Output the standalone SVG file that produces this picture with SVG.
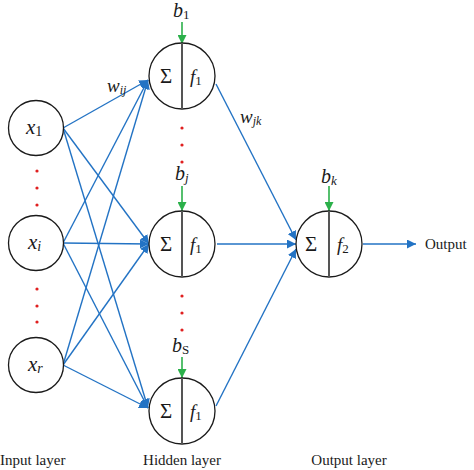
<svg xmlns="http://www.w3.org/2000/svg" width="474" height="470" viewBox="0 0 474 470">
<defs>
<marker id="ab" viewBox="0 0 10 10" refX="10" refY="5" markerWidth="9" markerHeight="9" markerUnits="userSpaceOnUse" orient="auto"><path d="M0,0 L10,5 L0,10 z" fill="#2373c4"/></marker>
<marker id="ag" viewBox="0 0 10 10" refX="10" refY="5" markerWidth="9" markerHeight="9" markerUnits="userSpaceOnUse" orient="auto"><path d="M0,0 L10,5 L0,10 z" fill="#2bb04a"/></marker>
</defs>
<style>
.n{fill:#fff;stroke:#1a1a1a;stroke-width:1.3}
.d{stroke:#555;stroke-width:2}
.c{stroke:#2373c4;stroke-width:1.4;fill:none}
.g{stroke:#2bb04a;stroke-width:1.6}
.t{font-family:"Liberation Serif",serif;fill:#1a1a1a}
.i{font-style:italic}
.r{fill:#e02020}
</style>
<rect width="474" height="470" fill="#fff"/>
<g id="connectors">
<line class="c" x1="63" y1="128" x2="148" y2="80" marker-end="url(#ab)"/>
<line class="c" x1="63" y1="243" x2="148" y2="80" marker-end="url(#ab)"/>
<line class="c" x1="63" y1="365" x2="148" y2="80" marker-end="url(#ab)"/>
<line class="c" x1="63" y1="128" x2="149" y2="244" marker-end="url(#ab)"/>
<line class="c" x1="63" y1="243" x2="149" y2="244" marker-end="url(#ab)"/>
<line class="c" x1="63" y1="365" x2="149" y2="244" marker-end="url(#ab)"/>
<line class="c" x1="63" y1="128" x2="148" y2="408" marker-end="url(#ab)"/>
<line class="c" x1="63" y1="243" x2="148" y2="408" marker-end="url(#ab)"/>
<line class="c" x1="63" y1="365" x2="148" y2="408" marker-end="url(#ab)"/>
<line class="c" x1="216" y1="84" x2="296" y2="240" marker-end="url(#ab)"/>
<line class="c" x1="217" y1="244" x2="296" y2="244" marker-end="url(#ab)"/>
<line class="c" x1="216" y1="406" x2="296" y2="249" marker-end="url(#ab)"/>
<line class="c" x1="363" y1="244" x2="416" y2="244" marker-end="url(#ab)"/>
<line class="g" x1="182" y1="22" x2="182" y2="44" marker-end="url(#ag)"/>
<line class="g" x1="182" y1="186" x2="182" y2="211" marker-end="url(#ag)"/>
<line class="g" x1="182" y1="357" x2="182" y2="378" marker-end="url(#ag)"/>
<line class="g" x1="329" y1="186" x2="329" y2="211" marker-end="url(#ag)"/>
</g>
<g id="x1"><circle class="n" cx="36" cy="128" r="27.5"/><text class="t" x="26" y="134" font-size="21"><tspan class="i">x</tspan><tspan font-size="14" dy="2">1</tspan></text></g>
<g id="xi"><circle class="n" cx="36" cy="243" r="27.5"/><text class="t" x="28" y="249" font-size="21"><tspan class="i">x</tspan><tspan class="i" font-size="14" dy="2">i</tspan></text></g>
<g id="xr"><circle class="n" cx="36" cy="365" r="27.5"/><text class="t" x="28" y="371" font-size="21"><tspan class="i">x</tspan><tspan class="i" font-size="14" dy="2">r</tspan></text></g>
<g id="h1"><circle class="n" cx="182" cy="76" r="33"/><line class="d" x1="182" y1="43" x2="182" y2="109"/><text class="t" x="160" y="83" font-size="21">Σ</text><text class="t" x="190" y="83" font-size="19"><tspan class="i">f</tspan><tspan font-size="13" dy="2">1</tspan></text></g>
<g id="hj"><circle class="n" cx="182" cy="244" r="33"/><line class="d" x1="182" y1="211" x2="182" y2="277"/><text class="t" x="160" y="251" font-size="21">Σ</text><text class="t" x="190" y="251" font-size="19"><tspan class="i">f</tspan><tspan font-size="13" dy="2">1</tspan></text></g>
<g id="hs"><circle class="n" cx="182" cy="411" r="33"/><line class="d" x1="182" y1="378" x2="182" y2="444"/><text class="t" x="160" y="418" font-size="21">Σ</text><text class="t" x="190" y="418" font-size="19"><tspan class="i">f</tspan><tspan font-size="13" dy="2">1</tspan></text></g>
<g id="out"><circle class="n" cx="329" cy="244" r="33"/><line class="d" x1="329" y1="211" x2="329" y2="277"/><text class="t" x="305" y="251" font-size="21">Σ</text><text class="t" x="337" y="251" font-size="19"><tspan class="i">f</tspan><tspan font-size="13" dy="2">2</tspan></text></g>
<g id="labels">
<text class="t" x="173" y="17" font-size="20"><tspan class="i">b</tspan><tspan font-size="13" dy="2">1</tspan></text>
<text class="t" x="175" y="180" font-size="20"><tspan class="i">b</tspan><tspan class="i" font-size="13" dy="2">j</tspan></text>
<text class="t" x="172" y="352" font-size="20"><tspan class="i">b</tspan><tspan font-size="13" dy="2">S</tspan></text>
<text class="t" x="321" y="183" font-size="20"><tspan class="i">b</tspan><tspan class="i" font-size="13" dy="2">k</tspan></text>
<text class="t" x="107" y="92" font-size="19"><tspan class="i">w</tspan><tspan class="i" font-size="12" dy="2">ij</tspan></text>
<text class="t" x="240" y="123" font-size="19"><tspan class="i">w</tspan><tspan class="i" font-size="12" dy="2">jk</tspan></text>
<text class="t" x="425" y="249" font-size="15">Output</text>
<text class="t" x="0" y="465" font-size="15">Input layer</text>
<text class="t" x="182" y="465" font-size="15" text-anchor="middle">Hidden layer</text>
<text class="t" x="349" y="465" font-size="15" text-anchor="middle">Output layer</text>
</g>
<g id="dots">
<circle class="r" cx="37" cy="171" r="1.6"/><circle class="r" cx="37" cy="188" r="1.6"/><circle class="r" cx="37" cy="205" r="1.6"/>
<circle class="r" cx="37" cy="289" r="1.6"/><circle class="r" cx="37" cy="306" r="1.6"/><circle class="r" cx="37" cy="322" r="1.6"/>
<circle class="r" cx="182" cy="128" r="1.6"/><circle class="r" cx="182" cy="145" r="1.6"/><circle class="r" cx="182" cy="162" r="1.6"/>
<circle class="r" cx="182" cy="296" r="1.6"/><circle class="r" cx="182" cy="313" r="1.6"/><circle class="r" cx="182" cy="330" r="1.6"/>
</g>
</svg>
